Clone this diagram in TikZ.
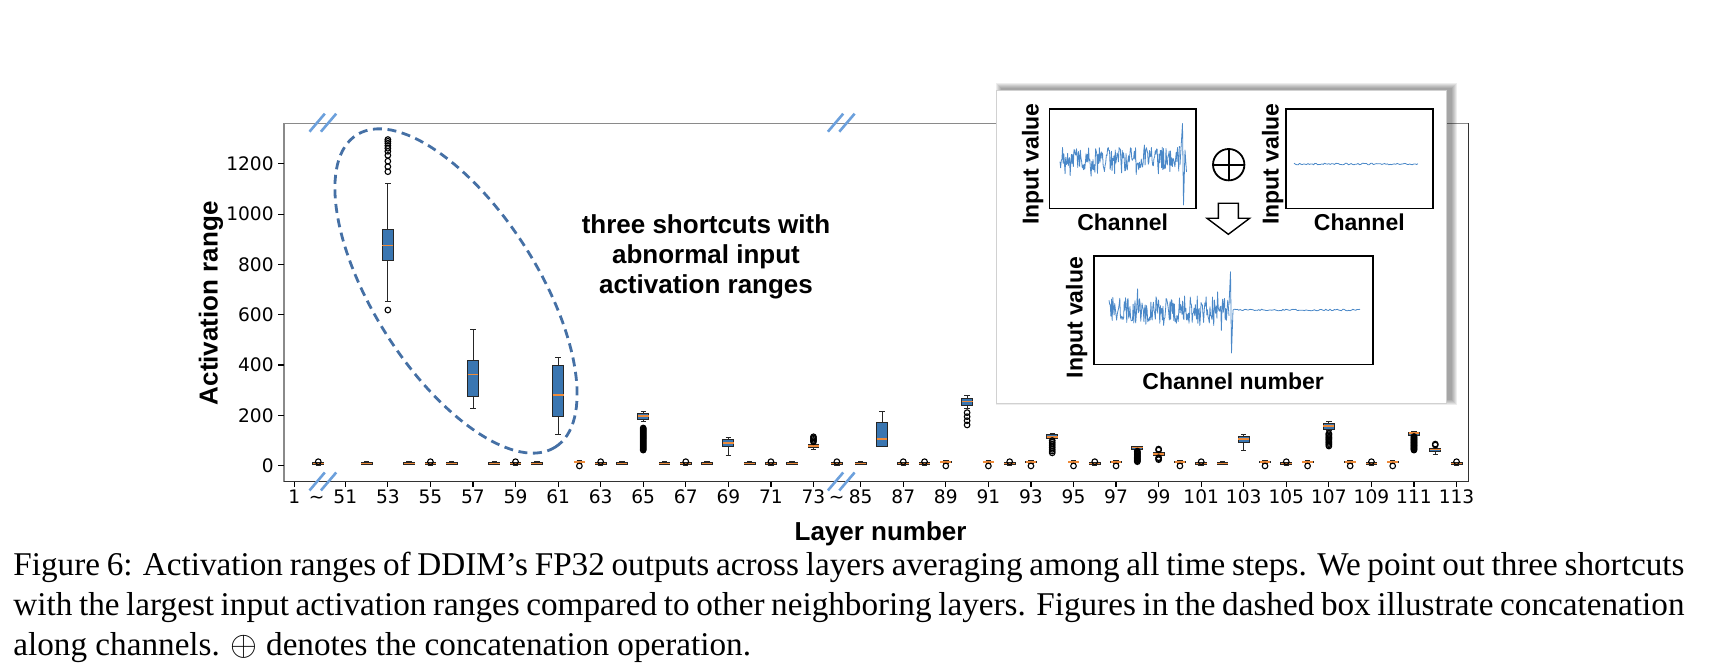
\documentclass[tikz,border=0pt]{standalone}
\usepackage{fontspec}
\setmainfont{Liberation Serif}
\newfontfamily\dvsans{DejaVu Sans}
\newfontfamily\arsans{Liberation Sans}
\usetikzlibrary{positioning}

\definecolor{boxblue}{HTML}{3A76B1}
\definecolor{medorange}{HTML}{EE8B3A}
\definecolor{ellblue}{HTML}{4570A5}
\definecolor{brkblue}{HTML}{6CA0DC}
\definecolor{sigblue}{HTML}{4A88C8}
\definecolor{spinegray}{HTML}{8A8A8A}

\newcommand{\bxp}[6]{%
  \pgfmathsetmacro\bx{#1<80 ? 345.3+21.28*(#1-51) : 860.7+21.28*(#1-85)}%
  \draw[whk] (\bx,#2) -- (\bx,#3) (\bx,#5) -- (\bx,#6)
    ({\bx-2.7},#2) -- ({\bx+2.7},#2) ({\bx-2.7},#6) -- ({\bx+2.7},#6);
  \filldraw[bx] ({\bx-5.4},#3) rectangle ({\bx+5.4},#5);
  \draw[med] ({\bx-5.4},#4) -- ({\bx+5.4},#4);}
\newcommand{\fls}[2]{%
  \pgfmathsetmacro\bx{#1<80 ? 345.3+21.28*(#1-51) : 860.7+21.28*(#1-85)}%
  \foreach \v in {#2} \draw[flier] (\bx,\v) circle [radius=1.4pt];}

\begin{document}
\begin{tikzpicture}[
  x=0.5pt, y=-0.5pt,
  tlab/.style={font=\dvsans\fontsize{9.3}{11}\selectfont, inner sep=0pt},
  alab/.style={font=\arsans\bfseries\fontsize{13}{15}\selectfont, inner sep=0pt, align=center},
  ilab/.style={font=\arsans\bfseries\fontsize{11.5}{13}\selectfont, inner sep=0pt},
  captext/.style={font=\fontsize{16.6}{20}\selectfont, inner sep=0pt},
  tk/.style={line width=0.6pt},
  bx/.style={draw=black!85, fill=boxblue, line width=0.45pt},
  med/.style={draw=medorange, line width=0.8pt},
  whk/.style={draw=black!85, line width=0.45pt},
  flier/.style={draw=black, line width=0.55pt},
  brk/.style={draw=brkblue, line width=1.3pt},
  ell/.style={draw=ellblue, line width=1.4pt, dash pattern=on 4.5pt off 2.8pt},
  pbox/.style={draw, line width=0.8pt, minimum width=73.35pt, minimum height=49.7pt, inner sep=0pt, outer sep=0pt},
  sig/.style={draw=sigblue, line width=0.4pt, line join=round},
  inbox/.style={draw=black!18, fill=white, line width=0.5pt, minimum width=225.35pt, minimum height=156.3pt, inner sep=0pt}
  ]

\useasboundingbox (0,0) rectangle (1726,672);

\draw[spinegray, line width=0.7pt] (284,481.7) -- (284,123.3) -- (1468.3,123.3);
\draw[black!80, line width=0.7pt] (284,481.7) -- (1468.3,481.7) -- (1468.3,123.3);

\foreach \v in {0,200,...,1200} {
  \pgfmathsetmacro\ty{465.7-0.2515*\v}
  \draw[tk] (278,\ty) -- (284,\ty);
  \node[tlab, anchor=east] (y\v) at (274,\ty) {\v};
}
\foreach \l in {51,53,...,73} {
  \pgfmathsetmacro\tx{345.3+21.28*(\l-51)}
  \draw[tk] (\tx,481.7) -- (\tx,487.5);
  \node[tlab, anchor=base] (t\l) at (\tx,503.6) {\l};
}
\foreach \l in {85,87,...,113} {
  \pgfmathsetmacro\tx{860.7+21.28*(\l-85)}
  \draw[tk] (\tx,481.7) -- (\tx,487.5);
  \node[tlab, anchor=base] (t\l) at (\tx,503.6) {\l};
}
\draw[tk] (294.3,481.7) -- (294.3,487.5);
\node[tlab, anchor=base] (t1) at (294.3,503.6) {1};
\node[tlab, anchor=base] (ta) at (316.7,503.6) {\textasciitilde};
\node[tlab, anchor=base] (tb) at (836.7,503.6) {\textasciitilde};

\begin{scope}[yshift=-232.85pt, y=0.12575pt]
\foreach \l in {52,54,56,58,60,64,66,68,70,72,85,102} \bxp{\l}{3}{6}{9}{12}{15};
\foreach \l in {49.73,55,59,63,67,71,74.1,87,88,92,96,101,105,109,113} {\bxp{\l}{2}{5}{8}{11}{13}\fls{\l}{16}}
\foreach \l in {62,89,91,93,95,97,100,104,106,108,110} {\bxp{\l}{8}{11}{14}{17}{19}\fls{\l}{-1}}
\bxp{53}{655}{815}{876}{940}{1123}
\fls{53}{619,1169,1189,1211,1234,1250,1262,1272,1282,1290,1297}
\bxp{57}{228}{277}{362}{417}{543}
\bxp{61}{125}{195}{280}{398}{429}
\bxp{65}{176}{182}{198}{208}{215}
\fls{65}{62,66,...,150}
\bxp{69}{41}{78}{90}{105}{112}
\bxp{73}{65}{72}{79}{85}{88}
\fls{73}{95,100,...,115}
\bxp{86}{76}{78}{107}{171}{217}
\bxp{90}{227}{241}{256}{268}{278}
\fls{90}{162,179,195,211}
\bxp{94}{104}{107}{115}{125}{129}
\fls{94}{51,58,...,100}
\bxp{98}{62}{65}{72}{76}{78}
\fls{98}{16,19,...,60}
\bxp{99}{38}{40}{46}{52}{56}
\fls{99}{24,28,32,62,66}
\bxp{103}{62}{93}{106}{118}{125}
\bxp{107}{140}{145}{158}{169}{176}
\fls{107}{78,83,...,130}
\bxp{111}{120}{122}{129}{131}{135}
\fls{111}{62,65,...,118}
\bxp{112}{45}{55}{65}{70}{75}
\fls{112}{82,86}
\end{scope}

\draw[ell, rotate around={-57.5:(456,291)}] (456,291) ellipse [x radius=185, y radius=82];

\foreach \sx in {0,518.4} \foreach \sy in {131.7,490.5} \foreach \k in {0,11.4}
  \draw[brk] ({309.5+\sx+\k},\sy) -- ++(15.3,-18);

\node[alab, rotate=90] (yl) at (211,303.3) {Activation range};
\node[alab] (xl) at (880.6,533.3) {Layer number};
\node[alab] (note) at (706,256.7) {three shortcuts with\\abnormal input\\activation ranges};

\foreach \s in {0,...,5}
  \fill[black, opacity=0.07] ({996+5-\s},{90.7-3-\s}) rectangle ({1446.7+5+\s},{403.3-3+\s});
\node[inbox] (ins) at (1221.35,247) {};

\node[pbox] (p1) at (1122.65,159) {};
\node[pbox] (p2) at (1359.35,159) {};
\node[pbox, minimum width=139.5pt, minimum height=54.35pt] (p3) at (1233.2,310.35) {};
\node[ilab, below=2.5pt of p1] (c1) {Channel};
\node[ilab, below=2.5pt of p2] (c2) {Channel};
\node[ilab, below=4pt of p3] (c3) {Channel number};
\node[ilab, rotate=90] (v1) at (1032.7,164) {Input value};
\node[ilab, rotate=90] (v2) at (1272.7,164) {Input value};
\node[ilab, rotate=90] (v3) at (1076.7,317.7) {Input value};

\node[circle, draw, line width=0.9pt, minimum size=15.7pt, inner sep=0pt] (cat) at (1228.7,164.7) {};
\draw[line width=0.9pt] (cat.north) -- (cat.south) (cat.west) -- (cat.east);
\draw[line width=0.7pt, line join=miter] (1218.3,203.3) -- (1218.3,218.3) -- (1207,218.3) -- (1228.3,234.3)
  -- (1249.6,218.3) -- (1238.3,218.3) -- (1238.3,203.3) -- cycle;

\pgfmathsetseed{11}
\draw[sig] plot[domain=1060:1180, samples=190] (\x,{160+13*rand+13*rand*rand*rand});
\draw[sig] (1180,165) -- (1182.5,123.5) -- (1183.5,205) -- (1185,150) -- (1186.5,172);
\draw[sig] plot[domain=1294:1418, samples=90] (\x,{164+0.8*rand});
\draw[sig] plot[domain=1109:1229, samples=190] (\x,{310+13*rand+14*rand*rand*rand});
\draw[sig] (1229,305) -- (1230.5,271.7) -- (1231.5,353) -- (1233,310);
\draw[sig] plot[domain=1233:1360, samples=90] (\x,{310+0.8*rand});

\node[captext, anchor=base west] (f1) at (13,576) {\makebox[835.5pt][s]{Figure 6: Activation ranges of DDIM’s FP32 outputs across layers averaging among all time steps. We point out three shortcuts}};
\node[captext, anchor=base west] (f2) at (13,616) {\makebox[835.5pt][s]{with the largest input activation ranges compared to other neighboring layers. Figures in the dashed box illustrate concatenation}};
\node[captext, anchor=base west] (f3) at (13,656) {along channels. $\oplus$ denotes the concatenation operation.};

\end{tikzpicture}
\end{document}
